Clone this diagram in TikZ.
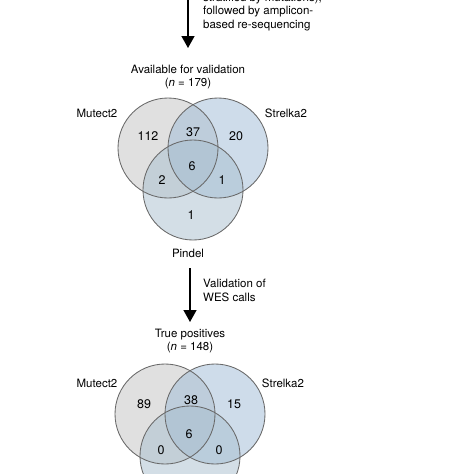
\documentclass[tikz,border=0pt]{standalone}
\usepackage{fontspec}
\setmainfont{TeX Gyre Heros}
\usetikzlibrary{arrows.meta}
\definecolor{mutc}{RGB}{195,195,195}
\definecolor{strc}{RGB}{158,187,215}
\definecolor{pinc}{RGB}{168,191,207}
\definecolor{edgec}{RGB}{105,105,105}
\begin{document}
\begin{tikzpicture}[x=1pt,y=-1pt,
  font=\fontsize{11.5}{13.8}\selectfont,
  setfill/.style={circle, minimum size=100pt, inner sep=0pt, fill opacity=0.5},
  setedge/.style={draw=edgec, line width=0.85pt},
  lbl/.style={inner sep=0pt},
  num/.style={inner sep=0pt, font=\fontsize{12.5}{14}\selectfont},
  flow/.style={-{Triangle[width=13pt,length=12pt]}, line width=1.4pt},
  note/.style={inner sep=0pt, align=left, anchor=west},
  title/.style={inner sep=0pt, align=center}]
\useasboundingbox (0,0) rectangle (474,474);
\clip (0,0) rectangle (474,474);
\fill[white] (0,0) rectangle (474,474);

% top arrow
\coordinate (a1s) at (188,-6);
\coordinate (a1e) at (188,48);
\draw[flow] (a1s) -- (a1e);
\node[note] (n1) at (203,12) {stratified by mutations),\\followed by amplicon-\\based re-sequencing};

\node[title] (t1) at (188,77) {Available for validation\\(\textit{n} = 179)};

% Venn 1
\node[setfill, fill=mutc] (m1) at (168,148) {};
\node[setfill, fill=strc] (s1) at (218,148) {};
\node[setfill, fill=pinc] (p1) at (193,190) {};
\draw[setedge] (m1.center) circle[radius=50];
\draw[setedge] (s1.center) circle[radius=50];
\draw[setedge] (p1.center) circle[radius=50];
\node[lbl] (ml1) at (97,113) {Mutect2};
\node[lbl] (sl1) at (286,113) {Strelka2};
\node[lbl] (pl1) at (188,253) {Pindel};
\node[num] at (148,136) {112};
\node[num] at (193,132) {37};
\node[num] at (236,136) {20};
\node[num] at (192,166) {6};
\node[num] at (162,180) {2};
\node[num] at (222,180) {1};
\node[num] at (191,215) {1};

% second arrow
\coordinate (a2s) at (190,268);
\coordinate (a2e) at (190,322);
\draw[flow] (a2s) -- (a2e);
\node[note] (n2) at (203,290) {Validation of\\WES calls};

\node[title] (t2) at (190,341) {True positives\\(\textit{n} = 148)};

% Venn 2
\node[setfill, fill=mutc] (m2) at (165,414) {};
\node[setfill, fill=strc] (s2) at (215,414) {};
\node[setfill, fill=pinc] (p2) at (190,456) {};
\draw[setedge] (m2.center) circle[radius=50];
\draw[setedge] (s2.center) circle[radius=50];
\draw[setedge] (p2.center) circle[radius=50];
\node[lbl] (ml2) at (97,383) {Mutect2};
\node[lbl] (sl2) at (283,383) {Strelka2};
\node[num] at (144,404) {89};
\node[num] at (191,400) {38};
\node[num] at (234,404) {15};
\node[num] at (189,434) {6};
\node[num] at (161,450) {0};
\node[num] at (219,450) {0};
\end{tikzpicture}
\end{document}
